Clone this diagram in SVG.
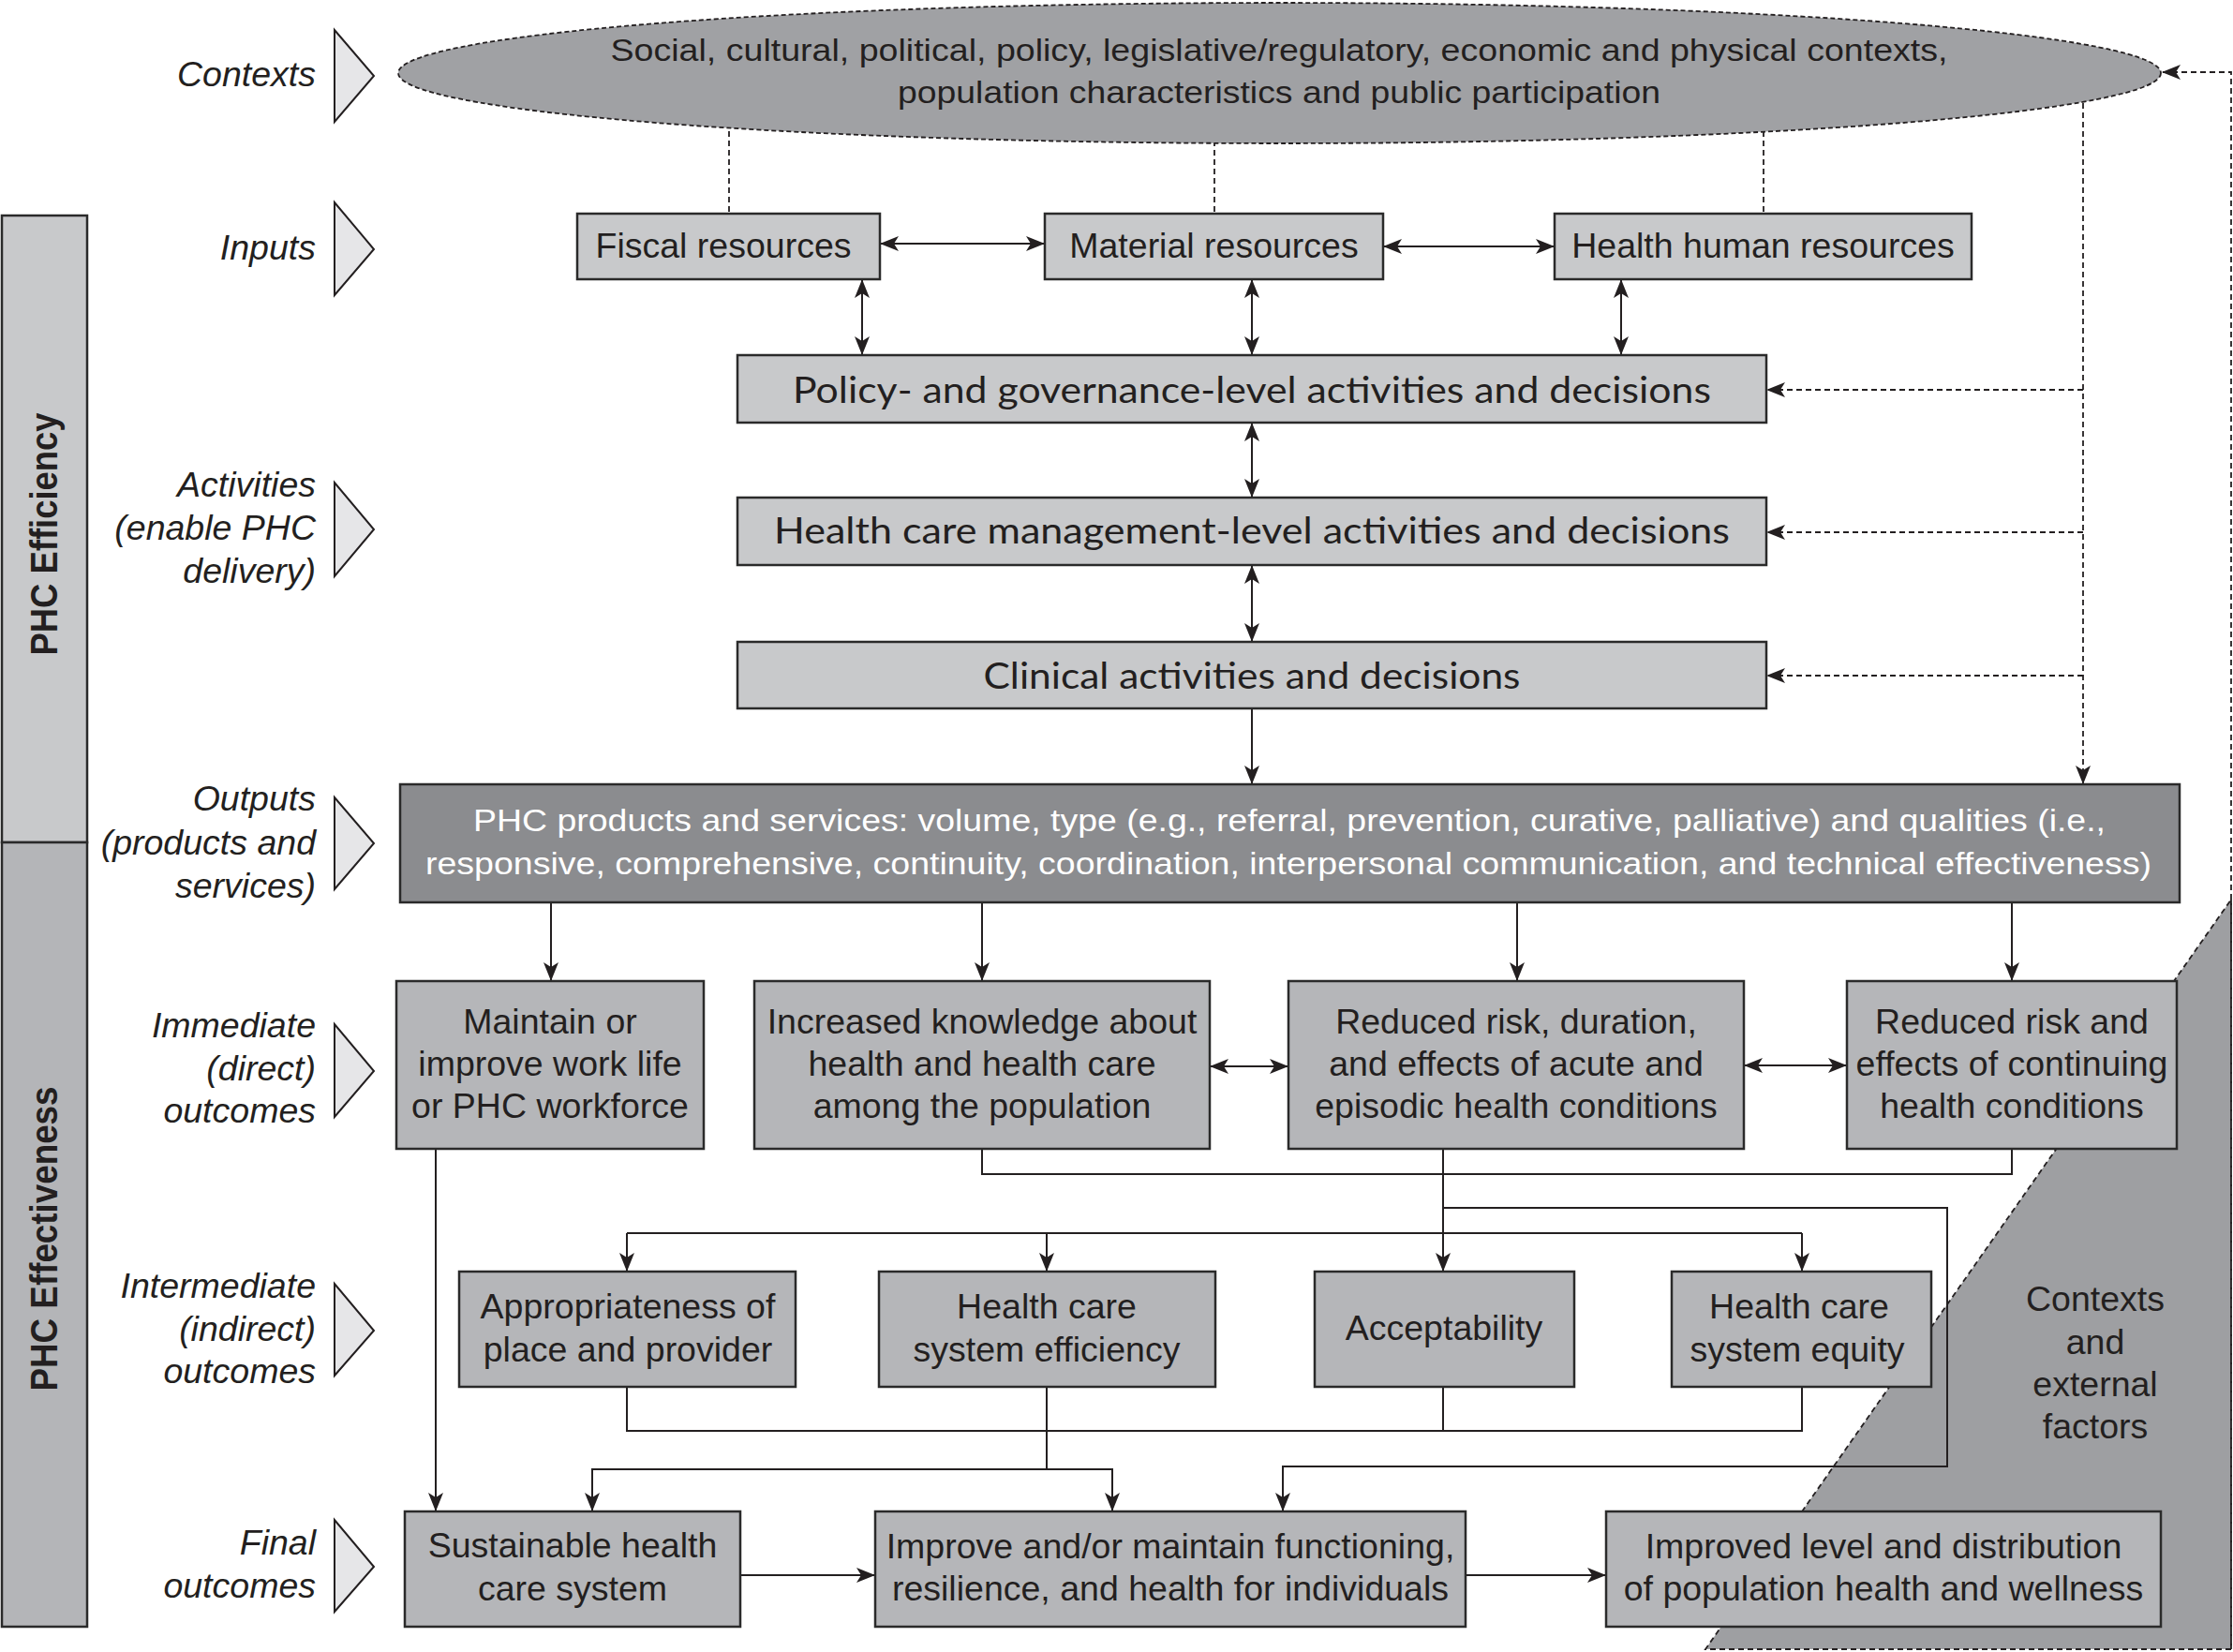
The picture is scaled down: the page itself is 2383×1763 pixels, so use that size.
<svg xmlns="http://www.w3.org/2000/svg" width="2383" height="1763" viewBox="0 0 2383 1763">
<style>
.t{font-family:"Liberation Sans",Arial,sans-serif;font-size:37.5px;fill:#231f20;text-anchor:middle}
.lab{font-family:"Liberation Sans",Arial,sans-serif;font-size:37.5px;font-style:italic;fill:#231f20;text-anchor:end}
.act{font-family:Lato,"Open Sans",sans-serif;font-size:39px;fill:#231f20;text-anchor:middle}
.side{font-family:"Liberation Sans",Arial,sans-serif;font-size:40px;font-weight:bold;fill:#231f20;text-anchor:middle}
.box{fill:#b5b6b9;stroke:#2a2a2a;stroke-width:2.5}
.lbox{fill:#c8c9cb;stroke:#2a2a2a;stroke-width:2.5}
.obox{fill:#8b8c8f;stroke:#2a2a2a;stroke-width:2.5}
.tri{fill:#e6e6e8;stroke:#231f20;stroke-width:2}
.c{stroke:#231f20;stroke-width:2;fill:none}
.d{stroke:#231f20;stroke-width:1.8;fill:none;stroke-dasharray:6 4}
</style>
<defs>
<marker id="ah" markerUnits="userSpaceOnUse" markerWidth="20" markerHeight="16" refX="20" refY="8" orient="auto-start-reverse" viewBox="0 0 20 16">
<path d="M0,0 L20,8 L0,16 L5,8 z" fill="#231f20"/>
</marker>
</defs>
<rect width="2383" height="1763" fill="#ffffff"/>

<g id="external-contexts">
<polygon points="2381,960 2381,1760 1820,1760" fill="#9e9fa2" stroke="#231f20" stroke-width="1.8" stroke-dasharray="6 4"/>
<text class="t" x="2236" y="1399">Contexts</text>
<text class="t" x="2236" y="1445">and</text>
<text class="t" x="2236" y="1490">external</text>
<text class="t" x="2236" y="1535">factors</text>
</g>

<g id="side-bar">
<rect x="2" y="230" width="91" height="669" fill="#c8c9cb" stroke="#2a2a2a" stroke-width="2.5"/>
<rect x="2" y="899" width="91" height="837" fill="#b4b5b8" stroke="#2a2a2a" stroke-width="2.5"/>
<text class="side" transform="translate(61,570) rotate(-90)" textLength="259" lengthAdjust="spacingAndGlyphs">PHC Efficiency</text>
<text class="side" transform="translate(61,1322) rotate(-90)" textLength="325" lengthAdjust="spacingAndGlyphs">PHC Effectiveness</text>
</g>

<g id="row-labels">
<polygon class="tri" points="357,32 357,130 399,81"/>
<text class="lab" x="337" y="92">Contexts</text>
<polygon class="tri" points="357,216 357,315 399,266"/>
<text class="lab" x="337" y="277">Inputs</text>
<polygon class="tri" points="357,515 357,615 399,565"/>
<text class="lab" x="337" y="530">Activities</text>
<text class="lab" x="337" y="576">(enable PHC</text>
<text class="lab" x="337" y="622">delivery)</text>
<polygon class="tri" points="357,851 357,949 399,900"/>
<text class="lab" x="337" y="865">Outputs</text>
<text class="lab" x="337" y="912">(products and</text>
<text class="lab" x="337" y="958">services)</text>
<polygon class="tri" points="357,1093 357,1192 399,1143"/>
<text class="lab" x="337" y="1107">Immediate</text>
<text class="lab" x="337" y="1153">(direct)</text>
<text class="lab" x="337" y="1198">outcomes</text>
<polygon class="tri" points="357,1370 357,1468 399,1420"/>
<text class="lab" x="337" y="1385">Intermediate</text>
<text class="lab" x="337" y="1431">(indirect)</text>
<text class="lab" x="337" y="1476">outcomes</text>
<polygon class="tri" points="357,1622 357,1720 399,1672"/>
<text class="lab" x="337" y="1659">Final</text>
<text class="lab" x="337" y="1705">outcomes</text>
</g>

<g id="connectors">
<line class="d" x1="778" y1="120" x2="778" y2="228"/>
<line class="d" x1="1296" y1="120" x2="1296" y2="228"/>
<line class="d" x1="1882" y1="120" x2="1882" y2="228"/>
<line class="d" x1="2223" y1="100" x2="2223" y2="837" marker-end="url(#ah)"/>
<line class="d" x1="2223" y1="416" x2="1885" y2="416" marker-end="url(#ah)"/>
<line class="d" x1="2223" y1="568" x2="1885" y2="568" marker-end="url(#ah)"/>
<line class="d" x1="2223" y1="721" x2="1885" y2="721" marker-end="url(#ah)"/>
<path class="d" d="M2381,1760 V77 H2307" marker-end="url(#ah)"/>

<line class="c" x1="939" y1="260" x2="1115" y2="260" marker-start="url(#ah)" marker-end="url(#ah)"/>
<line class="c" x1="1476" y1="263" x2="1659" y2="263" marker-start="url(#ah)" marker-end="url(#ah)"/>
<line class="c" x1="920" y1="298" x2="920" y2="379" marker-start="url(#ah)" marker-end="url(#ah)"/>
<line class="c" x1="1336" y1="298" x2="1336" y2="379" marker-start="url(#ah)" marker-end="url(#ah)"/>
<line class="c" x1="1730" y1="298" x2="1730" y2="379" marker-start="url(#ah)" marker-end="url(#ah)"/>
<line class="c" x1="1336" y1="451" x2="1336" y2="531" marker-start="url(#ah)" marker-end="url(#ah)"/>
<line class="c" x1="1336" y1="603" x2="1336" y2="685" marker-start="url(#ah)" marker-end="url(#ah)"/>
<line class="c" x1="1336" y1="756" x2="1336" y2="837" marker-end="url(#ah)"/>

<line class="c" x1="588" y1="963" x2="588" y2="1047" marker-end="url(#ah)"/>
<line class="c" x1="1048" y1="963" x2="1048" y2="1047" marker-end="url(#ah)"/>
<line class="c" x1="1619" y1="963" x2="1619" y2="1047" marker-end="url(#ah)"/>
<line class="c" x1="2147" y1="963" x2="2147" y2="1047" marker-end="url(#ah)"/>
<line class="c" x1="1291" y1="1138" x2="1375" y2="1138" marker-start="url(#ah)" marker-end="url(#ah)"/>
<line class="c" x1="1861" y1="1137" x2="1971" y2="1137" marker-start="url(#ah)" marker-end="url(#ah)"/>

<path class="c" d="M1048,1226 V1253 H2147 V1226"/>
<line class="c" x1="1540" y1="1226" x2="1540" y2="1357" marker-end="url(#ah)"/>
<path class="c" d="M1540,1289 H2078 V1565 H1369 V1613" marker-end="url(#ah)"/>
<line class="c" x1="669" y1="1316" x2="1923" y2="1316"/>
<line class="c" x1="669" y1="1316" x2="669" y2="1357" marker-end="url(#ah)"/>
<line class="c" x1="1117" y1="1316" x2="1117" y2="1357" marker-end="url(#ah)"/>
<line class="c" x1="1923" y1="1316" x2="1923" y2="1357" marker-end="url(#ah)"/>
<line class="c" x1="465" y1="1226" x2="465" y2="1613" marker-end="url(#ah)"/>

<path class="c" d="M669,1480 V1527 H1923 V1480"/>
<line class="c" x1="1540" y1="1480" x2="1540" y2="1527"/>
<line class="c" x1="1117" y1="1480" x2="1117" y2="1568"/>
<path class="c" d="M1117,1568 H632 V1613" marker-end="url(#ah)"/>
<path class="c" d="M1117,1568 H1187 V1613" marker-end="url(#ah)"/>
<line class="c" x1="790" y1="1681" x2="934" y2="1681" marker-end="url(#ah)"/>
<line class="c" x1="1564" y1="1681" x2="1714" y2="1681" marker-end="url(#ah)"/>
</g>

<g id="contexts">
<ellipse cx="1365.5" cy="78" rx="940.5" ry="75" fill="#a0a1a4" stroke="#231f20" stroke-width="1.8" stroke-dasharray="5 3"/>
<text class="t" x="1365" y="65" style="font-size:33px" textLength="1427" lengthAdjust="spacingAndGlyphs">Social, cultural, political, policy, legislative/regulatory, economic and physical contexts,</text>
<text class="t" x="1365" y="110" style="font-size:33px" textLength="814" lengthAdjust="spacingAndGlyphs">population characteristics and public participation</text>
</g>

<g id="fiscal">
<rect class="lbox" x="616" y="228" width="323" height="70"/>
<text class="t" x="772" y="275">Fiscal resources</text>
</g>
<g id="material">
<rect class="lbox" x="1115" y="228" width="361" height="70"/>
<text class="t" x="1295.5" y="275">Material resources</text>
</g>
<g id="human">
<rect class="lbox" x="1659" y="228" width="445" height="70"/>
<text class="t" x="1881.5" y="275">Health human resources</text>
</g>

<g id="policy">
<rect class="lbox" x="787" y="379" width="1098" height="72"/>
<text class="act" x="1336" y="430" textLength="980" lengthAdjust="spacingAndGlyphs">Policy- and governance-level activities and decisions</text>
</g>
<g id="management">
<rect class="lbox" x="787" y="531" width="1098" height="72"/>
<text class="act" x="1336" y="580" textLength="1020" lengthAdjust="spacingAndGlyphs">Health care management-level activities and decisions</text>
</g>
<g id="clinical">
<rect class="lbox" x="787" y="685" width="1098" height="71"/>
<text class="act" x="1336" y="735" textLength="573" lengthAdjust="spacingAndGlyphs">Clinical activities and decisions</text>
</g>

<g id="outputs">
<rect class="obox" x="427" y="837" width="1899" height="126"/>
<text class="t" x="1376" y="887" style="font-size:33px;fill:#ffffff" textLength="1742" lengthAdjust="spacingAndGlyphs">PHC products and services: volume, type (e.g., referral, prevention, curative, palliative) and qualities (i.e.,</text>
<text class="t" x="1375" y="933" style="font-size:33px;fill:#ffffff" textLength="1842" lengthAdjust="spacingAndGlyphs">responsive, comprehensive, continuity, coordination, interpersonal communication, and technical effectiveness)</text>
</g>

<g id="workforce">
<rect class="box" x="423" y="1047" width="328" height="179"/>
<text class="t" x="587" y="1103">Maintain or</text>
<text class="t" x="587" y="1148">improve work life</text>
<text class="t" x="587" y="1193">or PHC workforce</text>
</g>
<g id="knowledge">
<rect class="box" x="805" y="1047" width="486" height="179"/>
<text class="t" x="1048" y="1103">Increased knowledge about</text>
<text class="t" x="1048" y="1148">health and health care</text>
<text class="t" x="1048" y="1193">among the population</text>
</g>
<g id="acute">
<rect class="box" x="1375" y="1047" width="486" height="179"/>
<text class="t" x="1618" y="1103">Reduced risk, duration,</text>
<text class="t" x="1618" y="1148">and effects of acute and</text>
<text class="t" x="1618" y="1193">episodic health conditions</text>
</g>
<g id="continuing">
<rect class="box" x="1971" y="1047" width="352" height="179"/>
<text class="t" x="2147" y="1103">Reduced risk and</text>
<text class="t" x="2147" y="1148">effects of continuing</text>
<text class="t" x="2147" y="1193">health conditions</text>
</g>

<g id="appropriateness">
<rect class="box" x="490" y="1357" width="359" height="123"/>
<text class="t" x="670" y="1407">Appropriateness of</text>
<text class="t" x="670" y="1453">place and provider</text>
</g>
<g id="efficiency">
<rect class="box" x="938" y="1357" width="359" height="123"/>
<text class="t" x="1117" y="1407">Health care</text>
<text class="t" x="1117" y="1453">system efficiency</text>
</g>
<g id="acceptability">
<rect class="box" x="1403" y="1357" width="277" height="123"/>
<text class="t" x="1541" y="1430">Acceptability</text>
</g>
<g id="equity">
<rect class="box" x="1784" y="1357" width="277" height="123"/>
<text class="t" x="1920" y="1407">Health care</text>
<text class="t" x="1918" y="1453">system equity</text>
</g>

<g id="sustainable">
<rect class="box" x="432" y="1613" width="358" height="123"/>
<text class="t" x="611" y="1662">Sustainable health</text>
<text class="t" x="611" y="1708">care system</text>
</g>
<g id="individuals">
<rect class="box" x="934" y="1613" width="630" height="123"/>
<text class="t" x="1249" y="1663">Improve and/or maintain functioning,</text>
<text class="t" x="1249" y="1708">resilience, and health for individuals</text>
</g>
<g id="population">
<rect class="box" x="1714" y="1613" width="592" height="123"/>
<text class="t" x="2010" y="1663">Improved level and distribution</text>
<text class="t" x="2010" y="1708">of population health and wellness</text>
</g>
</svg>
